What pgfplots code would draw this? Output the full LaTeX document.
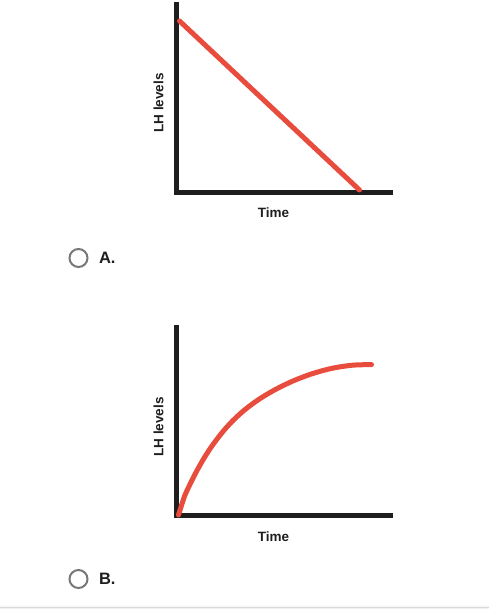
\documentclass[border=0pt]{standalone}
\usepackage{pgfplots}
\pgfplotsset{compat=1.18}
\usepackage{fontspec}
\setmainfont{Liberation Sans}
\definecolor{lhred}{RGB}{232,76,61}
\definecolor{axblack}{RGB}{30,30,30}
\definecolor{radiogray}{RGB}{120,120,120}
\pgfplotsset{
  lhaxis/.style={
    scale only axis, width=214pt, height=188pt,
    xmin=0, xmax=214, ymin=0, ymax=188,
    axis lines=left,
    axis line style={line width=5pt, -, color=axblack, line cap=rect},
    xtick=\empty, ytick=\empty, clip=false,
    xlabel={Time}, ylabel={LH levels},
    label style={font=\fontsize{13.5}{15}\selectfont\bfseries, text=axblack},
  }
}
\begin{document}
\begin{tikzpicture}[x=1pt,y=1pt]
\path[fill=white] (0,0) rectangle (488,609);
\shade[top color=white, bottom color=black!8] (0,0) rectangle (488,5);
\draw[black!15, line width=1pt] (0,1) -- (488,1);
% Chart A
\begin{axis}[lhaxis, at={(176pt,416pt)}, anchor=south west,
  xlabel style={at={(axis description cs:0.453,-0.106)}, anchor=center},
  ylabel style={at={(axis description cs:-0.084,0.479)}, anchor=center}]
\addplot[lhred, line width=5pt, line cap=round] coordinates {(3,172) (183,3)};
\end{axis}
% Chart B
\begin{axis}[lhaxis, at={(176pt,93pt)}, anchor=south west,
  xlabel style={at={(axis description cs:0.453,-0.112)}, anchor=center},
  ylabel style={at={(axis description cs:-0.084,0.473)}, anchor=center}]
\addplot[lhred, line width=5pt, line cap=round, smooth] coordinates {
  (2,1) (8,19.7) (14,32.7) (20,44.6) (28,58.6) (36,70.8) (46,83.9)
  (56,95) (68,106) (82,116.4) (98,126) (116,134.8) (136,142.4)
  (156,147.8) (176,150.8) (195,151.4)};
\end{axis}
% Radio buttons
\draw[radiogray, line width=2pt] (78,351) circle (9);
\node[anchor=west, font=\fontsize{16.5}{18}\selectfont\bfseries, text=axblack] at (95,351) {A.};
\draw[radiogray, line width=2pt] (78,30) circle (9);
\node[anchor=west, font=\fontsize{16.5}{18}\selectfont\bfseries, text=axblack] at (95,30) {B.};
\end{tikzpicture}
\end{document}
